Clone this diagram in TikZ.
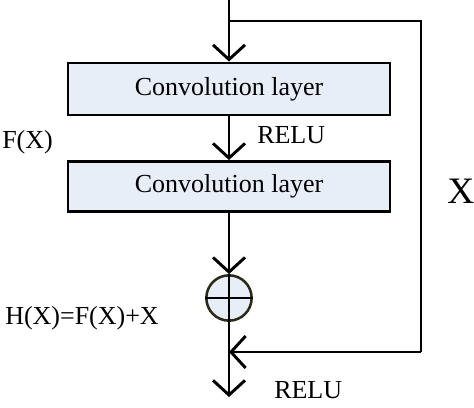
\documentclass[tikz,border=0pt]{standalone}
\usepackage{fontspec}
\setmainfont{Liberation Serif}
\usepackage{xcolor}
\usetikzlibrary{arrows.meta}
\definecolor{boxfill}{RGB}{232,238,248}
\definecolor{ringline}{RGB}{42,42,26}

\begin{document}
\begin{tikzpicture}[x=0.75pt,y=0.75pt,yscale=-1,xscale=1,
  convbox/.style={draw,line width=2.2pt,fill=boxfill,minimum width=241.5pt,minimum height=39pt,inner sep=0pt,font=\fontsize{19.5}{22}\selectfont},
  flow/.style={line width=2.2pt,-{Straight Barb[length=11pt,width=24pt,line width=2.2pt]}},
  plain/.style={line width=2.2pt},
  lbl/.style={anchor=west,inner sep=0pt,font=\fontsize{19.5}{22}\selectfont}]

\useasboundingbox (0,0) rectangle (474,407);

\node [convbox] (conv1) at (229,89) {Convolution layer};
\node [convbox,minimum height=37.5pt] (conv2) at (229,186.5) {Convolution layer};
\node [circle,draw=ringline,line width=1.9pt,fill=boxfill,minimum size=34pt,inner sep=0pt] (sum) at (229,298) {};

\coordinate (in) at (229,0);
\coordinate (split) at (229,21);
\coordinate (cornA) at (421,21);
\coordinate (cornB) at (421,352);
\coordinate (join) at (229,352);
\coordinate (out) at (229,397);

\draw [plain] (in) -- (split);
\draw [flow] (split) -- (conv1.north);
\draw [flow] (conv1.south) -- (conv2.north);
\draw [flow] (conv2.south) -- (sum.north);
\draw [plain] (sum.north) -- (sum.south);
\draw [plain] (sum.west) -- (sum.east);
\draw [flow] (sum.south) -- (out);
\draw [plain] (split) -- (cornA) -- (cornB);
\draw [flow] (cornB) -- (join);

\draw (2,142) node [lbl] (fx) {F(X)};
\draw (257,135) node [lbl] (relu1) {RELU};
\draw (447,191) node [lbl,font=\fontsize{28}{30}\selectfont] (skip) {X};
\draw (5,318) node [lbl] (hx) {H(X)=F(X)+X};
\draw (274,390) node [lbl] (relu2) {RELU};

\end{tikzpicture}
\end{document}
